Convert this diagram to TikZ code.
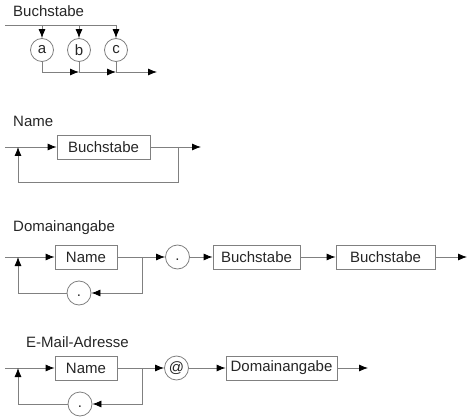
\documentclass[tikz,border=0pt]{standalone}
\usepackage{fontspec}
\setmainfont{Liberation Sans}
\usepackage{tikz}
\usetikzlibrary{shapes,arrows.meta,positioning}
\tikzstyle{lbl} = [anchor=base west, inner sep=0pt, text=black!85, font=\fontsize{15}{18}\selectfont]
\tikzstyle{box} = [rectangle, draw=gray, line width=0.8pt, minimum height=24pt, inner xsep=2pt, text=black!85, font=\fontsize{15}{18}\selectfont]
\tikzstyle{term} = [circle, draw=gray, line width=0.8pt, minimum size=24pt, inner sep=0pt, text=black!85, font=\fontsize{15}{18}\selectfont]
\tikzstyle{septerm} = [term, text height=7pt, text depth=0pt]
\tikzstyle{line} = [draw=gray, line width=0.8pt]
\tikzstyle{flow} = [line, -{Latex[length=9pt,width=7pt,color=black]}]

\begin{document}
\begin{tikzpicture}[x=1pt,y=-1pt]
	\useasboundingbox (0,0) rectangle (474,417);

	% Buchstabe
	\node [lbl] (lbuch) at (13,17) {Buchstabe};
	\coordinate (bin) at (5,25);
	\node [term, minimum size=23pt] (a) at (42,50) {a};
	\node [term, minimum size=23pt] (b) at (79,50) {b};
	\node [term, minimum size=23pt] (c) at (116,50) {c};
	\coordinate (bout) at (157,72);

	\path [line] (bin) -- (c |- bin);
	\path [flow] (a |- bin) -- (a);
	\path [flow] (b |- bin) -- (b);
	\path [flow] (c |- bin) -- (c);
	\path [flow] (a) |- (b |- bout);
	\path [flow] (b) |- (c |- bout);
	\path [flow] (c) |- (bout);

	% Name
	\node [lbl] (lname) at (13,127) {Name};
	\coordinate (nin) at (5,147);
	\node [box, minimum width=93pt] (nbuch) at (103.5,147) {Buchstabe};
	\coordinate (nout) at (201,147);
	\coordinate (nsplit) at (178,147);
	\coordinate (njoin) at (18,147);

	\path [flow] (nin) -- (nbuch);
	\path [flow] (nbuch) -- (nout);
	\path [flow] (nsplit) -- ++(0,35) -| (njoin);

	% Domainangabe
	\node [lbl] (ldomain) at (13,231) {Domainangabe};
	\coordinate (din) at (5,257);
	\node [box, minimum width=62pt] (dname) at (86,257) {Name};
	\coordinate (dsplit) at (142,257);
	\node [septerm] (ddot) at (177.5,257) {.};
	\node [box, minimum width=87pt] (dbuch1) at (256.5,257) {Buchstabe};
	\node [box, minimum width=99pt] (dbuch2) at (385.5,257) {Buchstabe};
	\coordinate (dout) at (467,257);
	\node [septerm] (dsep) at (79,293) {.};
	\coordinate (djoin) at (18,257);

	\path [flow] (din) -- (dname);
	\path [line] (dname) -- (dsplit);
	\path [flow] (dsplit) -- (ddot);
	\path [flow] (ddot) -- (dbuch1);
	\path [flow] (dbuch1) -- (dbuch2);
	\path [flow] (dbuch2) -- (dout);
	\path [flow] (dsplit) |- (dsep);
	\path [flow] (dsep) -| (djoin);

	% E-Mail-Adresse
	\node [lbl] (lmail) at (26,347) {E-Mail-Adresse};
	\coordinate (ein) at (5,368);
	\node [box, minimum width=62pt] (ename) at (86,368) {Name};
	\coordinate (esplit) at (142,368);
	\node [term] (eat) at (176.5,368) {@};
	\node [box, minimum width=111pt] (edomain) at (281.5,368) {Domainangabe};
	\coordinate (eout) at (368,368);
	\node [septerm] (esep) at (80,404) {.};
	\coordinate (ejoin) at (18,368);

	\path [flow] (ein) -- (ename);
	\path [line] (ename) -- (esplit);
	\path [flow] (esplit) -- (eat);
	\path [flow] (eat) -- (edomain);
	\path [flow] (edomain) -- (eout);
	\path [flow] (esplit) |- (esep);
	\path [flow] (esep) -| (ejoin);
\end{tikzpicture}
\end{document}
